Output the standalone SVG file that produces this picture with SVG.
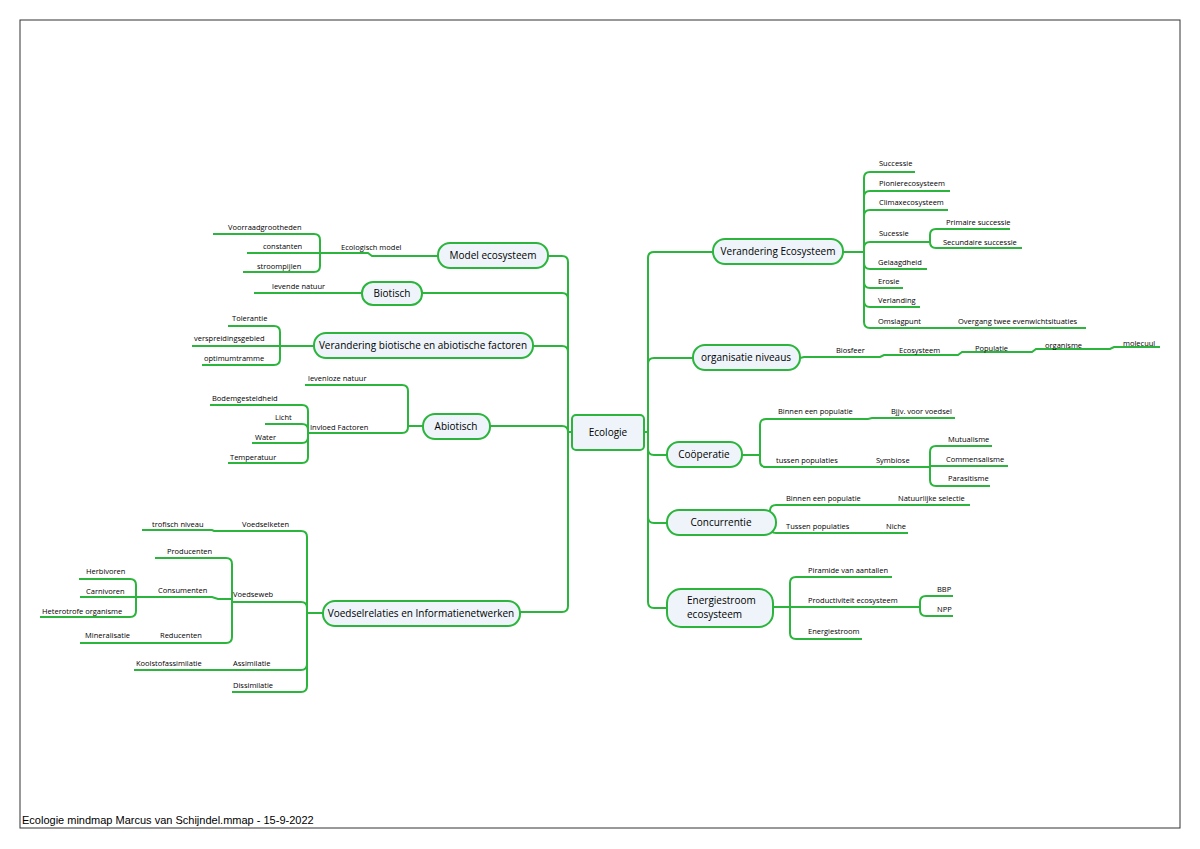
<svg xmlns="http://www.w3.org/2000/svg" width="1200" height="849" viewBox="0 0 1200 849">
<style>
.l{fill:none;stroke:#2bb53d;stroke-width:2}
.n{fill:#eef4fa;stroke:#2bb53d;stroke-width:2}
.t{font-family:"Open Sans","Noto Sans",sans-serif;font-size:7.5px;fill:#000}
.nt{font-family:"Open Sans","Noto Sans",sans-serif;font-size:10px;fill:#000}
</style>
<rect x="0" y="0" width="1200" height="849" fill="#fff"/>
<rect x="20" y="20" width="1160" height="808" fill="none" stroke="#333" stroke-width="1"/>
<text x="22" y="824" font-family="Liberation Sans,sans-serif" font-size="11">Ecologie mindmap Marcus van Schijndel.mmap - 15-9-2022</text>
<g id="connectors">
<!-- left spine -->
<path class="l" d="M548,256 H562 Q568,256 568,262 V606 Q568,612 562,612 H520"/>
<path class="l" d="M422,293 H562 Q568,293 568,299"/>
<path class="l" d="M533,346 H562 Q568,346 568,352"/>
<path class="l" d="M490,426 H562 Q568,426 568,432 H572"/>
<!-- right spine -->
<path class="l" d="M713,252 H654 Q648,252 648,258 V602 Q648,608 654,608 H667"/>
<path class="l" d="M693,358 H654 Q648,358 648,364"/>
<path class="l" d="M667,455 H654 Q648,455 648,449"/>
<path class="l" d="M667,523 H654 Q648,523 648,517"/>
<path class="l" d="M644,432 H648"/>
<!-- Model ecosysteem -->
<path class="l" d="M438,256 H372 L368,253 H320"/>
<path class="l" d="M213,234 H314 Q320,234 320,240 V266 Q320,272 314,272 H243"/>
<path class="l" d="M247,253 H320"/>
<!-- Biotisch -->
<path class="l" d="M254,293 H362"/>
<!-- Verandering biotische -->
<path class="l" d="M192,346 H314"/>
<path class="l" d="M228,326 H274 Q280,326 280,332 V359 Q280,365 274,365 H202"/>
<!-- Abiotisch -->
<path class="l" d="M423,426 H408"/>
<path class="l" d="M305,385 H402 Q408,385 408,391 V427 Q408,433 402,433 H308"/>
<path class="l" d="M210,405 H302 Q308,405 308,411 V457 Q308,463 302,463 H228"/>
<path class="l" d="M265,424 H302 Q308,424 308,430"/>
<path class="l" d="M252,443 H302 Q308,443 308,437"/>
<!-- Voedselrelaties -->
<path class="l" d="M323,613 H307"/>
<path class="l" d="M142,530 H212 L214,531 H301 Q307,531 307,537 V686 Q307,692 301,692 H232"/>
<path class="l" d="M232,602 H301 Q307,602 307,608"/>
<path class="l" d="M134,670 H301 Q307,670 307,664"/>
<path class="l" d="M155,558 H226 Q232,558 232,564 V637 Q232,643 226,643 H80"/>
<path class="l" d="M80,597 H212 L218,599 H232"/>
<path class="l" d="M79,579 H130 Q136,579 136,585 V611 Q136,617 130,617 H40"/>
<!-- Verandering Ecosysteem -->
<path class="l" d="M843,252 H864"/>
<path class="l" d="M915,172 H870 Q864,172 864,178 V322 Q864,328 870,328 H940 H1086"/>
<path class="l" d="M950,191 H870 Q864,191 864,197"/>
<path class="l" d="M948,210 H870 Q864,210 864,216"/>
<path class="l" d="M930,242 H870 Q864,242 864,248"/>
<path class="l" d="M927,269 H870 Q864,269 864,263"/>
<path class="l" d="M903,288 H870 Q864,288 864,282"/>
<path class="l" d="M920,307 H870 Q864,307 864,301"/>
<path class="l" d="M1010,229 H936 Q930,229 930,235 V242 V242 Q930,248 936,248 H1022"/>
<!-- organisatie niveaus -->
<path class="l" d="M800,358 L804,357 H880 L884,355 H958 L962,352 H1032 L1036,349 H1110 L1114,347 H1160"/>
<!-- Cooperatie -->
<path class="l" d="M742,455 H760"/>
<path class="l" d="M955,418 H872 L868,419 H766 Q760,419 760,425 V461 Q760,467 766,467 H930"/>
<path class="l" d="M992,446 H936 Q930,446 930,452 V480 Q930,486 936,486 H990"/>
<path class="l" d="M930,466 H1008"/>
<!-- Concurrentie -->
<path class="l" d="M776,523 H770"/>
<path class="l" d="M970,505 H776 Q770,505 770,511 V527 Q770,533 776,533 H908"/>
<!-- Energiestroom -->
<path class="l" d="M773,607 H920"/>
<path class="l" d="M892,577 H796 Q790,577 790,583 V633 Q790,639 796,639 H862"/>
<path class="l" d="M953,596 H926 Q920,596 920,602 V610 Q920,616 926,616 H953"/>
</g>
<g id="ecologie"><rect class="n" x="572" y="415" width="72" height="35" rx="4"/><text class="nt" x="608" y="436" text-anchor="middle">Ecologie</text></g>
<g id="model"><rect class="n" x="438" y="243" width="110" height="25" rx="12"/><text class="nt" x="493" y="259" text-anchor="middle">Model ecosysteem</text>
<text class="t" x="341" y="250">Ecologisch model</text><text class="t" x="228" y="230">Voorraadgrootheden</text><text class="t" x="263" y="249">constanten</text><text class="t" x="257" y="269">stroompijlen</text></g>
<g id="biotisch"><rect class="n" x="362" y="282" width="60" height="23" rx="11"/><text class="nt" x="392" y="297" text-anchor="middle">Biotisch</text>
<text class="t" x="272" y="289">levende natuur</text></g>
<g id="verbiot"><rect class="n" x="314" y="333" width="219" height="25" rx="12"/><text class="nt" x="423" y="349" text-anchor="middle">Verandering biotische en abiotische factoren</text>
<text class="t" x="232" y="321">Tolerantie</text><text class="t" x="194" y="341">verspreidingsgebied</text><text class="t" x="204" y="361">optimumtramme</text></g>
<g id="abiotisch"><rect class="n" x="423" y="414" width="67" height="25" rx="12"/><text class="nt" x="456" y="430" text-anchor="middle">Abiotisch</text>
<text class="t" x="308" y="381">levenloze natuur</text><text class="t" x="310" y="430">Invloed Factoren</text><text class="t" x="212" y="401">Bodemgesteldheid</text><text class="t" x="275" y="420">Licht</text><text class="t" x="255" y="440">Water</text><text class="t" x="230" y="460">Temperatuur</text></g>
<g id="voedsel"><rect class="n" x="323" y="601" width="197" height="25" rx="12"/><text class="nt" x="421" y="617" text-anchor="middle">Voedselrelaties en Informatienetwerken</text>
<text class="t" x="152" y="527">trofisch niveau</text><text class="t" x="242" y="527">Voedselketen</text><text class="t" x="167" y="554">Producenten</text><text class="t" x="158" y="593">Consumenten</text><text class="t" x="233" y="597">Voedseweb</text><text class="t" x="86" y="574">Herbivoren</text><text class="t" x="86" y="594">Carnivoren</text><text class="t" x="42" y="614">Heterotrofe organisme</text><text class="t" x="85" y="638">Mineralisatie</text><text class="t" x="160" y="638">Reducenten</text><text class="t" x="136" y="666">Koolstofassimilatie</text><text class="t" x="233" y="666">Assimilatie</text><text class="t" x="233" y="688">Dissimilatie</text></g>
<g id="verEco"><rect class="n" x="713" y="239" width="130" height="25" rx="12"/><text class="nt" x="778" y="255" text-anchor="middle">Verandering Ecosysteem</text>
<text class="t" x="879" y="166">Successie</text><text class="t" x="879" y="186">Pionierecosysteem</text><text class="t" x="879" y="205">Climaxecosysteem</text><text class="t" x="879" y="236">Sucessie</text><text class="t" x="946" y="225">Primaire successie</text><text class="t" x="943" y="245">Secundaire successie</text><text class="t" x="878" y="265">Gelaagdheid</text><text class="t" x="878" y="284">Erosie</text><text class="t" x="878" y="303">Verlanding</text><text class="t" x="878" y="324">Omslagpunt</text><text class="t" x="958" y="324">Overgang twee evenwichtsituaties</text></g>
<g id="orgniv"><rect class="n" x="693" y="345" width="107" height="25" rx="12"/><text class="nt" x="746" y="361" text-anchor="middle">organisatie niveaus</text>
<text class="t" x="836" y="353">Biosfeer</text><text class="t" x="899" y="353">Ecosysteem</text><text class="t" x="975" y="351">Populatie</text><text class="t" x="1045" y="348">organisme</text><text class="t" x="1123" y="346">molecuul</text></g>
<g id="coop"><rect class="n" x="667" y="442" width="75" height="25" rx="12"/><text class="nt" x="704" y="458" text-anchor="middle">Coöperatie</text>
<text class="t" x="778" y="414">Binnen een populatie</text><text class="t" x="891" y="414">Bjjv. voor voedsel</text><text class="t" x="776" y="463">tussen populaties</text><text class="t" x="876" y="463">Symbiose</text><text class="t" x="948" y="442">Mutualisme</text><text class="t" x="946" y="462">Commensalisme</text><text class="t" x="948" y="481">Parasitisme</text></g>
<g id="concur"><rect class="n" x="667" y="510" width="109" height="25" rx="12"/><text class="nt" x="721" y="526" text-anchor="middle">Concurrentie</text>
<text class="t" x="786" y="501">Binnen een populatie</text><text class="t" x="898" y="501">Natuurlijke selectie</text><text class="t" x="786" y="529">Tussen populaties</text><text class="t" x="886" y="529">Niche</text></g>
<g id="energie"><rect class="n" x="667" y="589" width="106" height="38" rx="14"/><text class="nt" x="687" y="604">Energiestroom</text><text class="nt" x="687" y="618">ecosysteem</text>
<text class="t" x="808" y="573">Piramide van aantallen</text><text class="t" x="808" y="603">Productiviteit ecosysteem</text><text class="t" x="937" y="592">BBP</text><text class="t" x="937" y="612">NPP</text><text class="t" x="808" y="634">Energiestroom</text></g>
</svg>
